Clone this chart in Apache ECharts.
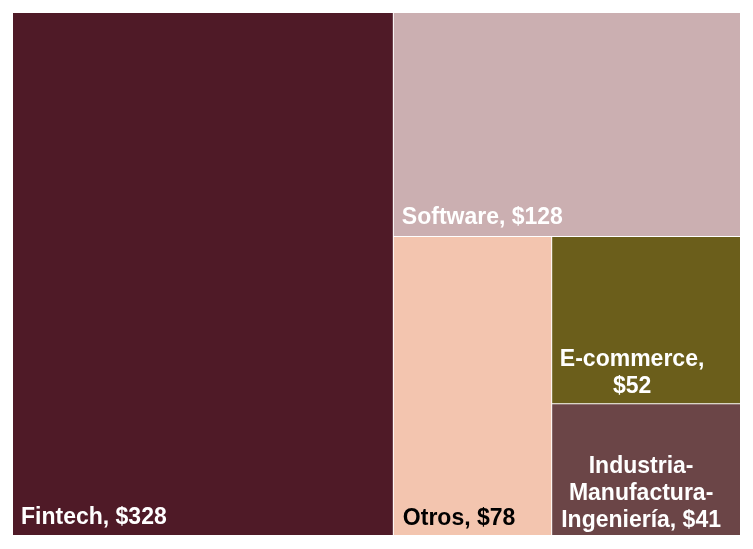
<!DOCTYPE html>
<html>
<head>
<meta charset="utf-8">
<script src="https://cdn.jsdelivr.net/npm/echarts@6/dist/echarts.min.js"></script>
<style>
  html, body { margin: 0; padding: 0; background: #fff; }
  #main { width: 753px; height: 549px; }
</style>
</head>
<body>
<div id="main"></div>
<script>
// datos del treemap
var categories = ['Fintech', 'Software', 'Otros', 'E-commerce', 'Industria-Manufactura-Ingeniería'];
var values = [328, 128, 78, 52, 41];
var labelTexts = ['Fintech, $328', 'Software, $128', 'Otros, $78', 'E-commerce,\n$52', 'Industria-\nManufactura-\nIngeniería, $41'];

var colors = ['#4F1A27', '#CBAFB1', '#F3C5AF', '#6B5E1B', '#6B4547'];
var labelColors = ['#fff', '#fff', '#000', '#fff', '#fff'];
var labelPos = ['insideBottomLeft', 'insideBottomLeft', 'insideBottomLeft', 'insideBottom', 'insideBottom'];
var labelOffset = [[0, 4], [0, 3], [1, 5], [-14, 5], [-5, 7]];

var chart = echarts.init(document.getElementById('main'));

var data = categories.map(function(name, i){
    return {
        name: name,
        value: values[i],
        itemStyle: { color: colors[i] },
        label: {
            formatter: labelTexts[i],
            color: labelColors[i],
            position: labelPos[i],
            offset: labelOffset[i],
            align: labelPos[i] === 'insideBottom' ? 'center' : 'left'
        }
    };
});

chart.setOption({
    animation: false,
    series: [{
        type: 'treemap',
        left: 13,
        top: 13,
        width: 727,
        height: 522,
        roam: false,
        nodeClick: false,
        breadcrumb: { show: false },
        squareRatio: 1,
        itemStyle: { borderWidth: 0, gapWidth: 1, borderColor: '#fff' },
        label: {
            show: true,
            fontFamily: 'Liberation Sans, Arial, sans-serif',
            fontSize: 23,
            fontWeight: 'bold',
            lineHeight: 27,
            padding: 0,
            distance: 8,
            textBorderWidth: 0,
            overflow: 'none'
        },
        data: data
    }]
});
</script>
</body>
</html>
